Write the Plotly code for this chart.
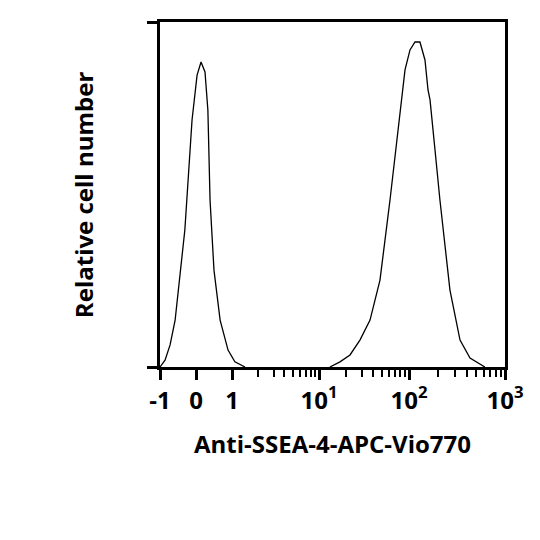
import numpy as np
import plotly.graph_objects as go

# fluorescence values (data units) and relative counts
neg_x = [-1.0, -0.86, -0.72, -0.58, -0.31, -0.11, 0.03, 0.14, 0.25, 0.33, 0.39,
         0.5, 0.67, 0.89, 1.08, 1.41]
neg_y = [0, 2, 6.4, 13.6, 39.7, 71.6, 84.6, 88.4, 85.5, 74.5, 48.4,
         28, 13.6, 4.9, 1.5, 0]
pos_x = [13.2, 17.1, 22.1, 28.5, 36.9, 47.6, 61.5, 79.4, 90.3, 102.4, 115.5, 130,
         146.7, 157.8, 165.6, 186.6, 210, 267, 340, 432, 549, 617]
pos_y = [0, 1.5, 3.5, 7.8, 13.6, 25.2, 48.4, 74.5, 86.1, 91.9, 94.2, 94.2,
         89, 80.3, 77.4, 62.9, 48.4, 22.3, 7.8, 2.6, 0.9, 0]

tick_vals = [-1, 0, 1, 10, 100, 1000]
tick_text = ["-1", "0", "1", "10<sup>1</sup>", "10<sup>2</sup>", "10<sup>3</sup>"]
# display positions of the major ticks (biexponential-like scale)
anchor_pos = [0, 36, 72, 159, 249, 345]


def to_display(v):
    v = np.asarray(v, dtype=float)
    lin = np.interp(v, tick_vals[:3], anchor_pos[:3])
    logv = np.log10(np.clip(v, 1, None))
    lg = np.interp(logv, [0, 1, 2, 3], anchor_pos[2:])
    return np.where(v <= 1, lin, lg)


minor_vals = [m * d for d in (1, 10, 100) for m in range(2, 10)]

fig = go.Figure()
for xs, ys in [(neg_x, neg_y), (pos_x, pos_y)]:
    fig.add_trace(go.Scatter(x=to_display(xs), y=ys, mode="lines",
                             line=dict(color="black", width=1.3),
                             showlegend=False, hoverinfo="skip"))

font = dict(family="Open Sans", size=24, color="black")
fig.update_layout(
    width=540, height=540, plot_bgcolor="white", paper_bgcolor="white",
    margin=dict(l=152, r=43, t=14, b=181),
    font=font,
    annotations=[
        dict(text="<b>Anti-SSEA-4-APC-Vio770</b>", x=0.5, y=-0.275, xref="paper",
             yref="paper", showarrow=False, font=font),
        dict(text="<b>Relative cell number</b>", x=-0.275, y=0.5, xref="paper",
             yref="paper", showarrow=False, textangle=-90, font=font),
    ],
)
fig.update_xaxes(
    range=[0, 345], tickvals=to_display(tick_vals), ticktext=tick_text,
    tickfont=dict(family="Open Sans", size=24, color="black", weight="bold"),
    showgrid=False, zeroline=False, showline=True, linecolor="black", linewidth=2.5,
    mirror=True, ticks="outside", ticklen=10, tickwidth=2.5, tickcolor="black",
    minor=dict(tickvals=to_display(minor_vals), ticks="outside", ticklen=7,
               tickwidth=2, tickcolor="black", showgrid=False),
)
fig.update_yaxes(
    range=[0, 100], tickvals=[0, 100], showticklabels=False,
    showgrid=False, zeroline=False, showline=True, linecolor="black", linewidth=2.5,
    mirror=True, ticks="outside", ticklen=10, tickwidth=2.5, tickcolor="black",
)

fig.write_html("out.html")
